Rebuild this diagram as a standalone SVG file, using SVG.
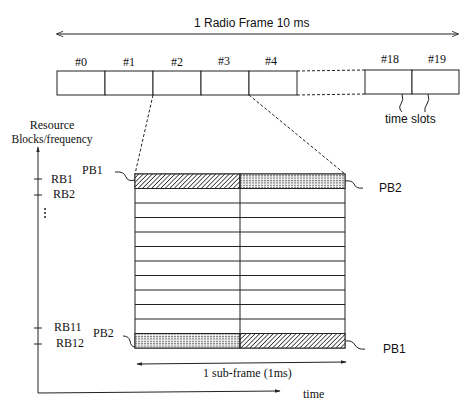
<svg xmlns="http://www.w3.org/2000/svg" width="474" height="414" viewBox="0 0 474 414">
<style>
.ln{stroke:#222;stroke-width:1;fill:none}
.box{stroke:#222;stroke-width:1;fill:#fff}
.dash{stroke:#222;stroke-width:1;fill:none;stroke-dasharray:3,2}
.serif{font-family:"Liberation Serif","Times New Roman",serif;font-size:12px;fill:#111}
.sans{font-family:"Liberation Sans",Arial,sans-serif;font-size:12px;fill:#111}
</style>
<defs>
<marker id="ah" viewBox="0 0 10 10" refX="9" refY="5" markerWidth="7" markerHeight="7" orient="auto-start-reverse">
<path d="M0,1 L10,5 L0,9" fill="none" stroke="#222" stroke-width="1.2"/>
</marker>
<marker id="ahf" viewBox="0 0 10 10" refX="9" refY="5" markerWidth="6" markerHeight="6" orient="auto-start-reverse">
<path d="M0,2 L10,5 L0,8 Z" fill="#222"/>
</marker>
<pattern id="diag" patternUnits="userSpaceOnUse" width="3.2" height="3.2" patternTransform="rotate(45)">
<rect width="3.2" height="3.2" fill="#fff"/>
<line x1="0" y1="0" x2="0" y2="3.2" stroke="#222" stroke-width="1.5"/>
</pattern>
<pattern id="horiz" patternUnits="userSpaceOnUse" width="3" height="2.4">
<rect width="3" height="2.4" fill="#eee"/>
<line x1="0" y1="0.6" x2="3" y2="0.6" stroke="#555" stroke-width="0.9" stroke-dasharray="2,1"/>
</pattern>
</defs>

<g id="title">
<line class="ln" x1="57" y1="34" x2="458" y2="34" marker-start="url(#ah)" marker-end="url(#ah)"/>
<text class="sans" x="194" y="27" font-size="12.5">1 Radio Frame 10 ms</text>
</g>

<g id="slots">
<rect class="box" x="57" y="71" width="48" height="24"/>
<rect class="box" x="105" y="71" width="48" height="24"/>
<rect class="box" x="153" y="71" width="48" height="24"/>
<rect class="box" x="201" y="71" width="48" height="24"/>
<rect class="box" x="249" y="71" width="48" height="24"/>
<rect class="box" x="365" y="70" width="47" height="24"/>
<rect class="box" x="412" y="70" width="47" height="24"/>
<line class="dash" x1="297" y1="71" x2="365" y2="70"/>
<line class="dash" x1="297" y1="95" x2="365" y2="94"/>
<text class="serif" x="75" y="66">#0</text>
<text class="serif" x="123" y="66">#1</text>
<text class="serif" x="171" y="66">#2</text>
<text class="serif" x="218" y="65">#3</text>
<text class="serif" x="265" y="65">#4</text>
<text class="serif" x="381" y="63">#18</text>
<text class="serif" x="428" y="63">#19</text>
</g>

<g id="timeslots">
<path class="ln" d="M402,94 Q404,100 401,104 Q398,108 402,112"/>
<path class="ln" d="M428,94 Q430,100 427,104 Q424,108 425,112"/>
<text class="sans" x="385" y="123">time slots</text>
</g>

<g id="connectors">
<line class="dash" x1="153" y1="95" x2="135" y2="174"/>
<line class="dash" x1="249" y1="95" x2="345" y2="174"/>
</g>

<g id="grid">
<rect class="box" x="135" y="174" width="210" height="174"/>
<rect x="135" y="174" width="105" height="14.5" fill="url(#diag)" stroke="#222"/>
<rect x="240" y="174" width="105" height="14.5" fill="url(#horiz)" stroke="#222"/>
<rect x="135" y="333.5" width="105" height="14.5" fill="url(#horiz)" stroke="#222"/>
<rect x="240" y="333.5" width="105" height="14.5" fill="url(#diag)" stroke="#222"/>
<g class="ln">
<line x1="135" y1="203" x2="345" y2="203"/>
<line x1="135" y1="217.5" x2="345" y2="217.5"/>
<line x1="135" y1="232" x2="345" y2="232"/>
<line x1="135" y1="246.5" x2="345" y2="246.5"/>
<line x1="135" y1="261" x2="345" y2="261"/>
<line x1="135" y1="275.5" x2="345" y2="275.5"/>
<line x1="135" y1="290" x2="345" y2="290"/>
<line x1="135" y1="304.5" x2="345" y2="304.5"/>
<line x1="135" y1="319" x2="345" y2="319"/>
<line x1="240" y1="174" x2="240" y2="348"/>
</g>
</g>

<g id="axes">
<line class="ln" x1="38" y1="393" x2="38" y2="147" marker-end="url(#ahf)"/>
<line class="ln" x1="38" y1="393" x2="280" y2="391" marker-end="url(#ahf)"/>
<line class="ln" x1="34" y1="179" x2="42" y2="179"/>
<line class="ln" x1="34" y1="195" x2="42" y2="195"/>
<line class="ln" x1="34" y1="328" x2="42" y2="328"/>
<line class="ln" x1="34" y1="344" x2="42" y2="344"/>
<text class="serif" x="52" y="129" text-anchor="middle">Resource</text>
<text class="serif" x="52" y="143" text-anchor="middle" textLength="81" lengthAdjust="spacingAndGlyphs">Blocks/frequency</text>
<text class="serif" x="303" y="398">time</text>
<circle cx="45" cy="209" r="1" fill="#222"/>
<circle cx="45" cy="213" r="1" fill="#222"/>
<circle cx="45" cy="217" r="1" fill="#222"/>
</g>

<g id="rb-labels">
<text class="serif" x="51" y="183">RB1</text>
<text class="serif" x="53" y="198">RB2</text>
<text class="serif" x="54" y="331">RB11</text>
<text class="serif" x="56" y="347">RB12</text>
</g>

<g id="pb-labels">
<text class="serif" x="82" y="174">PB1</text>
<path class="ln" d="M115,172 Q124,171 126,177 Q128,182 135,180"/>
<text class="serif" x="93" y="337">PB2</text>
<path class="ln" d="M123,336 Q129,336 130,341 Q131,347 135,347"/>
<text class="sans" x="379" y="192" font-size="13">PB2</text>
<path class="ln" d="M345,181 Q352,180 354,184 Q356,189 363,188"/>
<text class="sans" x="383" y="353" font-size="13">PB1</text>
<path class="ln" d="M346,341 Q352,340 355,345 Q358,350 365,349"/>
</g>

<g id="subframe">
<line class="ln" x1="137" y1="364" x2="346" y2="362" marker-start="url(#ahf)" marker-end="url(#ahf)"/>
<text class="serif" x="203" y="377">1 sub-frame (1ms)</text>
</g>
</svg>
